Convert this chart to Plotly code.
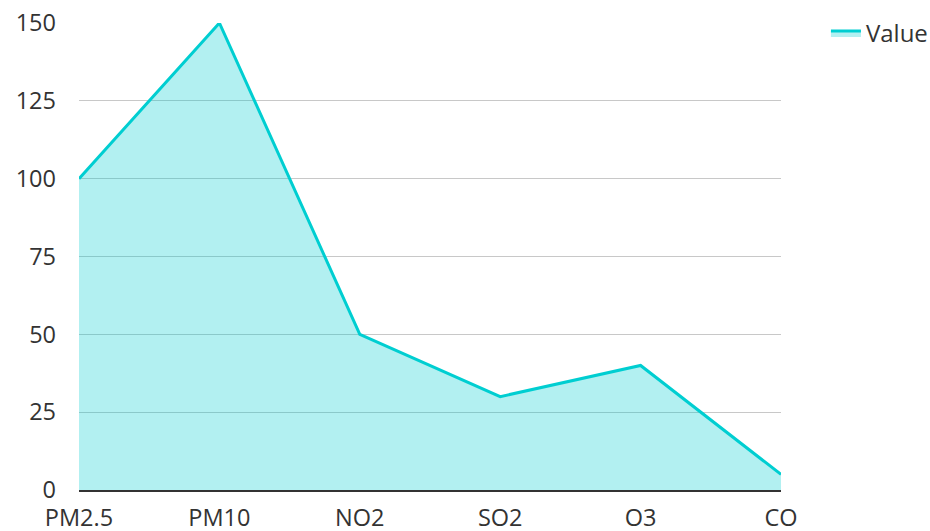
import plotly.graph_objects as go

categories = ["PM2.5", "PM10", "NO2", "SO2", "O3", "CO"]
values = [100, 150, 50, 30, 40, 5]
tick_vals = [0, 25, 50, 75, 100, 125, 150]

fig = go.Figure()
fig.add_trace(go.Scatter(
    x=categories, y=values, name="Value", mode="lines",
    line=dict(color="#00CED1", width=3),
    fill="tozeroy", fillcolor="rgba(0,206,209,0.3)",
))
fig.update_layout(
    template="none",
    width=930, height=531,
    margin=dict(l=79, r=149, t=23, b=41, autoexpand=False),
    paper_bgcolor="white", plot_bgcolor="white",
    font=dict(family="Open Sans, Noto Sans, sans-serif", size=23.5, color="#333"),
    showlegend=True,
    legend=dict(x=1.064, y=1.026, xanchor="left", yanchor="top",
                font=dict(size=24, color="#333"), bgcolor="rgba(0,0,0,0)"),
    xaxis=dict(type="category", range=[0, 5], showgrid=False, ticks="",
               showline=True, linecolor="#333", linewidth=2, zeroline=False,
               automargin=False, ticklabelstandoff=6, ticklabeloverflow="allow",
               tickfont=dict(size=23.5, color="#333")),
    yaxis=dict(range=[0, 150], tickvals=tick_vals, showgrid=True, gridcolor="#c8c8c8",
               gridwidth=1, zeroline=False, showline=False, ticks="",
               automargin=False, ticklabelstandoff=22, ticklabeloverflow="allow",
               tickfont=dict(size=23.5, color="#333")),
)
fig.write_html("out.html", config={"displayModeBar": False},
               post_script="document.body.style.margin='0';document.body.style.overflow='hidden';")
